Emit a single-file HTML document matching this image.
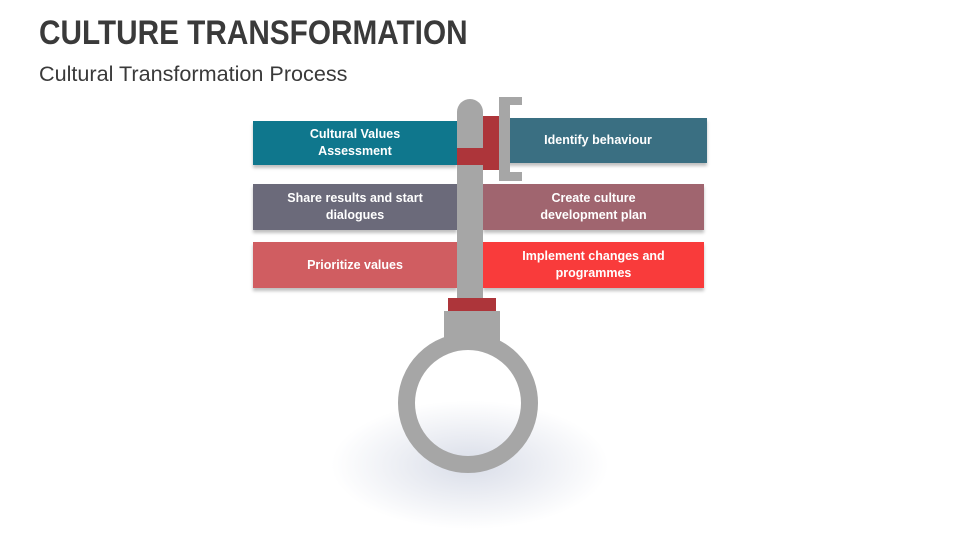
<!DOCTYPE html>
<html><head><style>
body{margin:0;width:960px;height:540px;background:#fff;position:relative;overflow:hidden;font-family:"Liberation Sans",sans-serif}
.t{position:absolute;left:39px;top:14px;font-size:34px;font-weight:bold;color:#3a3a3a;transform:scaleX(0.875);transform-origin:0 0;white-space:nowrap}
.s{position:absolute;left:39px;top:61px;font-size:21.6px;color:#3a3a3a;white-space:nowrap}
.b{position:absolute;color:#fff;font-size:12.5px;font-weight:bold;display:flex;align-items:center;justify-content:center;text-align:center;line-height:17px;box-shadow:0 3px 3px rgba(0,0,0,.25)}
.g{position:absolute;background:#a6a6a6}
.r{position:absolute;background:#ad353a}
</style></head><body>
<div class="t">CULTURE TRANSFORMATION</div>
<div class="s">Cultural Transformation Process</div>
<div style="position:absolute;left:330px;top:400px;width:280px;height:130px;border-radius:50%;background:radial-gradient(ellipse at center,rgba(180,188,210,.5),rgba(255,255,255,0) 70%)"></div>
<div class="b" style="left:253px;top:121px;width:204px;height:44px;background:#0f778d">Cultural Values<br>Assessment</div>
<div class="b" style="left:483px;top:118px;width:224px;height:45px;background:#3a6f82;padding-left:6px;box-sizing:border-box">Identify behaviour</div>
<div class="b" style="left:253px;top:184px;width:204px;height:46px;background:#6b6a7a">Share results and start<br>dialogues</div>
<div class="b" style="left:483px;top:184px;width:221px;height:46px;background:#a0656f">Create culture<br>development plan</div>
<div class="b" style="left:253px;top:242px;width:204px;height:46px;background:#d05d61">Prioritize values</div>
<div class="b" style="left:483px;top:242px;width:221px;height:46px;background:#f93b3b">Implement changes and<br>programmes</div>
<div class="g" style="left:457px;top:99px;width:26px;height:205px;border-radius:13px 13px 0 0"></div>
<div class="r" style="left:483px;top:116px;width:17px;height:54px"></div>
<div class="r" style="left:457px;top:148px;width:43px;height:17px"></div>
<div class="g" style="left:499px;top:97px;width:11px;height:84px"></div>
<div class="g" style="left:499px;top:97px;width:23px;height:8px"></div>
<div class="g" style="left:499px;top:172px;width:23px;height:9px"></div>
<div class="r" style="left:448px;top:298px;width:48px;height:13px"></div>
<div class="g" style="left:444px;top:311px;width:56px;height:34px"></div>
<div style="position:absolute;left:398px;top:333px;width:106px;height:106px;border-radius:50%;border:17px solid #a6a6a6"></div>
</body></html>
